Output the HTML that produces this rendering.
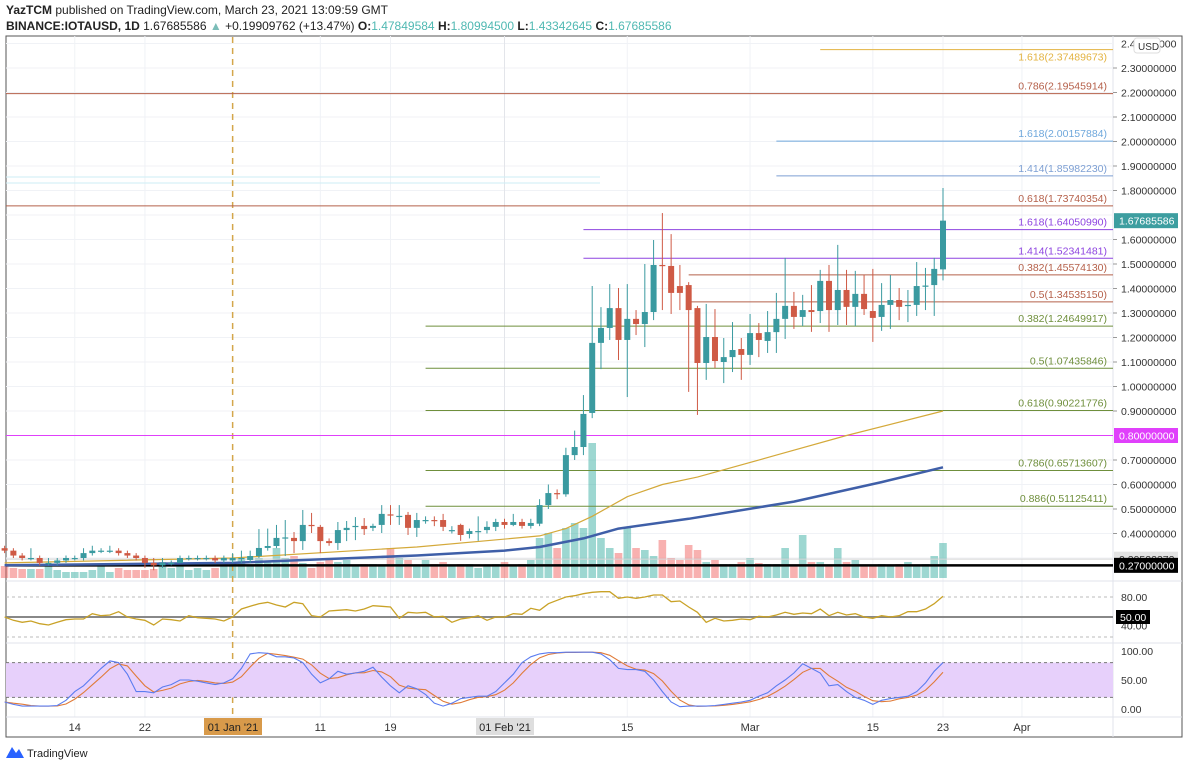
<!DOCTYPE html>
<html><head><meta charset="utf-8"><style>
body{margin:0;background:#fff;font-family:"Liberation Sans",sans-serif;}
#wrap{position:relative;width:1186px;height:768px;overflow:hidden;background:#fff;}
.hd{position:absolute;left:6px;font-size:12px;color:#222;white-space:nowrap;}
.v{color:#4fb8b2}
svg text{font-family:"Liberation Sans",sans-serif;}
</style></head><body>
<div id="wrap">
<div class="hd" style="top:3px"><b>YazTCM</b> published on TradingView.com, March 23, 2021 13:09:59 GMT</div>
<div class="hd" style="top:19px"><b>BINANCE:IOTAUSD, 1D</b> 1.67685586 <span style="color:#7bbdb8">▲</span> +0.19909762 (+13.47%) <b>O:</b><span class="v">1.47849584</span> <b>H:</b><span class="v">1.80994500</span> <b>L:</b><span class="v">1.43342645</span> <b>C:</b><span class="v">1.67685586</span></div>
<svg id="svg" width="1186" height="768" style="position:absolute;left:0;top:0"></svg>
</div>
<script>
const opens=[.34,.33,.31,.30,.30,.28,.28,.29,.30,.30,.32,.33,.33,.33,.32,.31,.30,.28,.27,.28,.28,.30,.30,.30,.30,.29,
.29,.30,.292,.308,.341,.349,.382,.382,.369,.435,.427,.369,.361,.414,.431,.431,.423,.435,.478,.472,.476,.423,.455,.455,.455,.414,.435,.398,.410,.414,.427,
.447,.435,.447,.431,.44,.516,.565,.56,.72,.753,.892,1.178,1.239,1.320,1.190,1.276,1.255,1.304,1.496,1.492,1.410,1.414,1.320,1.096,1.202,1.100,1.120,1.153,
1.129,1.218,1.186,1.222,1.276,1.329,1.284,1.312,1.308,1.431,1.312,1.394,1.325,1.378,1.308,1.284,1.333,1.353,1.329,1.333,1.410,1.414,1.478];
const highs=[.35,.34,.32,.34,.31,.30,.30,.31,.31,.34,.35,.34,.35,.34,.33,.32,.31,.30,.30,.29,.31,.31,.31,.31,.31,.31,
.32,.33,.33,.418,.42,.435,.455,.406,.496,.484,.435,.38,.447,.451,.467,.463,.44,.516,.516,.516,.488,.484,.47,.47,.48,.43,.44,.42,.47,.45,.46,
.46,.48,.46,.46,.54,.60,.58,.75,.82,.965,1.410,1.324,1.418,1.402,1.418,1.312,1.500,1.598,1.708,1.622,1.496,1.426,1.329,1.337,1.316,1.198,1.263,1.198,
1.296,1.259,1.308,1.382,1.525,1.386,1.374,1.414,1.476,1.496,1.578,1.476,1.472,1.455,1.480,1.422,1.455,1.402,1.394,1.508,1.484,1.525,1.810];
const lows=[.32,.30,.29,.29,.27,.27,.27,.28,.29,.29,.31,.32,.32,.31,.30,.29,.26,.25,.26,.27,.28,.29,.29,.29,.28,.28,
.28,.28,.28,.30,.33,.34,.308,.320,.333,.402,.320,.35,.333,.369,.373,.394,.41,.402,.435,.435,.394,.386,.44,.43,.41,.40,.37,.38,.37,.40,.41,
.42,.43,.42,.42,.43,.50,.54,.55,.70,.720,.871,1.071,1.190,1.108,0.957,1.210,1.161,1.271,1.312,1.296,1.312,0.978,0.884,1.027,1.075,1.014,1.059,1.027,
1.088,1.120,1.137,1.137,1.194,1.235,1.247,1.223,1.259,1.223,1.251,1.251,1.247,1.292,1.182,1.227,1.235,1.271,1.263,1.288,1.312,1.288,1.433];
const closes=[.33,.31,.30,.30,.28,.28,.29,.30,.30,.32,.33,.33,.33,.32,.31,.30,.28,.27,.28,.28,.30,.30,.30,.30,.29,.30,
.30,.30,.308,.341,.349,.382,.384,.369,.435,.432,.369,.361,.414,.423,.431,.418,.431,.480,.476,.472,.423,.455,.455,.452,.427,.414,.394,.410,.410,.427,.447,
.435,.447,.431,.443,.516,.565,.56,.72,.753,.888,1.178,1.239,1.320,1.190,1.276,1.255,1.304,1.496,1.492,1.382,1.382,1.312,1.096,1.202,1.104,1.120,1.149,1.129,
1.218,1.190,1.222,1.276,1.329,1.284,1.312,1.304,1.431,1.312,1.394,1.325,1.378,1.316,1.280,1.333,1.353,1.325,1.333,1.410,1.412,1.480,1.677];
const volumes=[12,10,9,9,9,12,8,6,6,6,8,12,6,10,8,8,8,9,16,10,12,8,10,8,10,14,
16,20,12,20,16,30,20,22,15,10,16,20,16,18,12,14,14,12,30,20,18,12,18,14,16,12,14,14,10,12,14,
16,12,14,18,40,45,30,50,55,50,135,40,30,25,50,30,28,22,38,20,18,33,28,16,18,14,14,16,
20,15,14,14,30,12,43,16,16,12,30,16,18,12,12,14,12,14,16,12,14,22,35];
const rsi=[50,45,42,44,40,38,42,46,47,47,55,52,53,58,50,47,45,38,47,46,44,52,49,48,47,44,
50,62,66,70,72,68,65,72,70,52,50,59,60,61,59,62,67,66,65,48,57,56,57,50,51,42,47,49,52,45,50,
50,55,54,63,60,70,75,80,82,85,87,88,88,78,80,78,80,83,83,73,74,65,57,42,48,44,45,47,
46,51,50,53,57,54,56,55,62,52,57,53,55,50,48,52,50,52,58,58,62,70,81];
const stochK=[12,8,5,5,5,5,6,15,30,40,55,70,83,80,60,30,30,28,38,42,50,50,48,45,42,45,
52,70,95,97,96,90,90,88,80,60,45,52,65,60,62,65,72,55,40,28,40,35,25,10,5,10,18,20,22,22,30,
45,60,80,90,95,97,97,98,98,98,98,95,85,70,68,68,65,50,30,12,4,5,5,5,6,8,10,12,
15,22,28,40,50,62,78,70,62,40,42,30,20,15,8,15,18,20,22,30,45,65,80];
const ma50Idx=[0,26,47,61,64,67,71,75,79,88,96,107];
const ma50Val=[.28,.30,.345,.39,.42,.47,.55,.60,.63,.72,.80,.90];
const ma200Idx=[0,26,47,57,61,66,70,78,90,100,107];
const ma200Val=[.27,.28,.31,.33,.345,.38,.42,.46,.53,.61,.67];
const fibPrices=[2.37489673,2.19545914,2.00157884,1.85982230,1.73740354,1.64050990,1.52341481,1.45574130,1.34535150,1.24649917,1.07435846,0.90221776,0.65713607,0.51125411];
const fibLabels=["1.618(2.37489673)","0.786(2.19545914)","1.618(2.00157884)","1.414(1.85982230)","0.618(1.73740354)","1.618(1.64050990)","1.414(1.52341481)","0.382(1.45574130)","0.5(1.34535150)","0.382(1.24649917)","0.5(1.07435846)","0.618(0.90221776)","0.786(0.65713607)","0.886(0.51125411)"];
const fibStartIdx=[93,-1,88,88,-1,66,66,78,78,48,48,48,48,48];
const fibColors=["#e3b341","#b5604a","#6fa8dc","#7d9fd3","#b5604a","#8e44e0","#8e44e0","#b5604a","#b5604a","#6f8f3c","#6f8f3c","#6f8f3c","#6f8f3c","#6f8f3c"];
const priceTicks=[2.3,2.2,2.1,2.0,1.9,1.8,1.6,1.5,1.4,1.3,1.2,1.1,1.0,0.9,0.7,0.6,0.5,0.4];
const timeTickIdx=[8,16,36,44,71,85,99,107,116];
const timeTickLabels=["14","22","11","19","15","Mar","15","23","Apr"];

const NS="http://www.w3.org/2000/svg";
const svg=document.getElementById('svg');
const PL=6,PR=1113;
function X(i){return 943-(107-i)*8.77;}
function Y(p){return 68+(2.3-p)*245;}
function RY(v){return 617-(v-50)*0.667;}
function SY(v){return 709-v*0.58;}
function VY(v){return 578-v;}
function mk(t,a,parent){const e=document.createElementNS(NS,t);for(const k in a)e.setAttribute(k,a[k]);(parent||svg).appendChild(e);return e;}
function txt(s,x,y,a,parent){const e=mk('text',Object.assign({x:x,y:y},a),parent);e.textContent=s;return e;}

let e;
e=mk('rect',{x:6,y:36,width:1176,height:701,fill:'none',stroke:'#555','stroke-width':1});

e=mk('line',{x1:PR,y1:36,x2:PR,y2:737,stroke:'#e0e3eb'});

const grid=mk('g',{});

for(let p=0.3;p<=2.41;p+=0.1){mk('line',{x1:PL,x2:PR,y1:Y(p),y2:Y(p),stroke:'#f0f2f6'},grid);}
timeTickIdx.forEach(i=>{mk('line',{x1:X(i),x2:X(i),y1:36,y2:717,stroke:'#f0f2f6'},grid);});
mk('line',{x1:X(57),x2:X(57),y1:36,y2:717,stroke:'#e3e5ea'},grid);
e=mk('line',{x1:PL,x2:1182,y1:581,y2:581,stroke:'#e0e3eb'});
e=mk('line',{x1:PL,x2:1182,y1:643,y2:643,stroke:'#e0e3eb'});
e=mk('line',{x1:PL,x2:1182,y1:717,y2:717,stroke:'#e0e3eb'});

mk('line',{x1:PL,x2:600,y1:177,y2:177,stroke:'#cdeef5'});
mk('line',{x1:PL,x2:600,y1:183,y2:183,stroke:'#cdeef5'});

const vg=mk('g',{});
volumes.forEach((v,i)=>{const up=closes[i]>=opens[i];
 const r=mk('rect',{x:X(i)-3.8,y:VY(v),width:7.6,height:v,fill:up?'rgba(38,166,154,0.45)':'rgba(239,83,80,0.45)'},vg);
 });

e=mk('line',{x1:X(26),x2:X(26),y1:37,y2:717,stroke:'#d4a64a','stroke-width':1.5,'stroke-dasharray':'6,5'});


e=mk('line',{x1:PL,x2:PR,y1:Y(0.8),y2:Y(0.8),stroke:'#e040fb','stroke-width':1});
e=mk('line',{x1:PL,x2:PR,y1:Y(0.29522372),y2:Y(0.29522372),stroke:'#d6d6d6','stroke-width':1});
e=mk('line',{x1:PL,x2:PR,y1:Y(0.27),y2:Y(0.27),stroke:'#000','stroke-width':2.5});

fibPrices.forEach((p,k)=>{const x1=fibStartIdx[k]<0?PL:X(fibStartIdx[k]);
 const g=mk('g',{});
 
 
 mk('line',{x1:x1,x2:PR,y1:Y(p),y2:Y(p),stroke:fibColors[k],'stroke-width':1},g);
 const ly=k===0?Y(p)+11:Y(p)-4;
 txt(fibLabels[k],1107,ly,{'text-anchor':'end','font-size':10.5,fill:fibColors[k]},g);
});

function lineFrom(idx,val,color,w,name){let d='';idx.forEach((i,k)=>{d+=(k?'L':'M')+X(i).toFixed(1)+' '+Y(val[k]).toFixed(1);});
 const p=mk('path',{d:d,fill:'none',stroke:color,'stroke-width':w,'stroke-linejoin':'round'});}
lineFrom(ma50Idx,ma50Val,'#d4a93a',1.2,'ma-short-line');
lineFrom(ma200Idx,ma200Val,'#3f5fa8',2.5,'ma-long-line');

const cg=mk('g',{});
closes.forEach((c,i)=>{const o=opens[i],up=c>=o,col=up?'#3a9aa0':'#cf5a45';
 const g=mk('g',{},cg);
 
 
 mk('line',{x1:X(i),x2:X(i),y1:Y(highs[i]),y2:Y(lows[i]),stroke:col,'stroke-width':1},g);
 const t=Y(Math.max(o,c)),b=Y(Math.min(o,c));
 mk('rect',{x:X(i)-3,y:t,width:6,height:Math.max(1.2,b-t),fill:col},g);
});

const rg=mk('g',{});
mk('line',{x1:PL,x2:PR,y1:RY(80),y2:RY(80),stroke:'#bbb','stroke-dasharray':'3,3'},rg);
mk('line',{x1:PL,x2:PR,y1:RY(20),y2:RY(20),stroke:'#bbb','stroke-dasharray':'3,3'},rg);
mk('line',{x1:PL,x2:PR,y1:RY(50),y2:RY(50),stroke:'#888','stroke-width':2},rg);
let d='';rsi.forEach((v,i)=>{d+=(i?'L':'M')+X(i).toFixed(1)+' '+RY(v).toFixed(1);});
e=mk('path',{d:d,fill:'none',stroke:'#c9a227','stroke-width':1.3},rg);
txt('80.00',1121,RY(80)+4,{'font-size':10.5,fill:'#333'});
txt('40.00',1121,RY(40)+6,{'font-size':10.5,fill:'#333'});
e=mk('rect',{x:1116,y:RY(50)-7,width:34,height:14,fill:'#000'});
txt('50.00',1120,RY(50)+4,{'font-size':10.5,fill:'#fff'});

const sg=mk('g',{});
mk('rect',{x:PL,y:SY(80),width:PR-PL,height:SY(20)-SY(80),fill:'#e7d0fb'},sg);
mk('line',{x1:PL,x2:PR,y1:SY(80),y2:SY(80),stroke:'#777','stroke-dasharray':'3,3'},sg);
mk('line',{x1:PL,x2:PR,y1:SY(20),y2:SY(20),stroke:'#777','stroke-dasharray':'3,3'},sg);
d='';stochK.forEach((v,i)=>{d+=(i?'L':'M')+X(i).toFixed(1)+' '+SY(v).toFixed(1);});
let d2='';stochK.forEach((v,i)=>{const a=stochK.slice(Math.max(0,i-2),i+1);const m=a.reduce((s,x)=>s+x,0)/a.length;d2+=(i?'L':'M')+X(i).toFixed(1)+' '+SY(m).toFixed(1);});
e=mk('path',{d:d2,fill:'none',stroke:'#e07b39','stroke-width':1.1},sg);
e=mk('path',{d:d,fill:'none',stroke:'#5b7cf0','stroke-width':1.1},sg);
[[100,'100.00'],[50,'50.00'],[0,'0.00']].forEach(t=>txt(t[1],1121,SY(t[0])+4,{'font-size':10.5,fill:'#333'}));

const ag=mk('g',{});
priceTicks.forEach(p=>{mk('line',{x1:PR,x2:PR+4,y1:Y(p),y2:Y(p),stroke:'#999'},ag);txt(p.toFixed(8),1121,Y(p)+4,{'font-size':10.5,fill:'#333'},ag);});
txt('2.40000000',1121,Y(2.4)+4,{'font-size':10.5,fill:'#333'},ag);
mk('rect',{x:1134,y:38,width:26,height:15,rx:3,fill:'#fff',stroke:'#ddd'},ag);
txt('USD',1138,50,{'font-size':10,fill:'#333'},ag);
function tag(p,label,bg,fg,name){const g=mk('g',{});
 mk('rect',{x:1114,y:Y(p)-7.5,width:64,height:15,fill:bg},g);txt(label,1119,Y(p)+4,{'font-size':10.5,fill:fg},g);}
tag(1.67685586,'1.67685586','#3d9ea0','#fff','last-price-tag');
tag(0.8,'0.80000000','#e040fb','#fff','level-0-80-tag');
tag(0.29522372,'0.29522372','#e3e3e3','#333','level-0-2952-tag');
tag(0.27,'0.27000000','#000','#fff','level-0-27-tag');

const tg=mk('g',{});
timeTickIdx.forEach((i,k)=>txt(timeTickLabels[k],X(i),731,{'font-size':11,fill:'#333','text-anchor':'middle'},tg));
mk('rect',{x:204,y:718,width:58,height:17,fill:'#d89a4a'},tg);
txt("01 Jan '21",233,731,{'font-size':11,fill:'#222','text-anchor':'middle'},tg);
mk('rect',{x:476,y:718,width:58,height:17,fill:'#dedede'},tg);
txt("01 Feb '21",505,731,{'font-size':11,fill:'#222','text-anchor':'middle'},tg);

const lg=mk('g',{});
mk('path',{d:'M6 758 L12 747 L16 753 L19 749 L24 758 Z',fill:'#2962ff'},lg);
txt('TradingView',27,757,{'font-size':11,fill:'#222'},lg);
</script>
</body></html>
